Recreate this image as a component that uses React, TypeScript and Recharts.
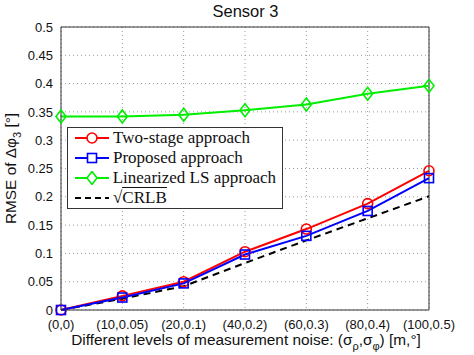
import React from "react";
import {
  CartesianGrid,
  Line,
  LineChart,
  ReferenceLine,
  XAxis,
  YAxis,
} from "recharts";

const noiseLevels = ["(0,0)", "(10,0.05)", "(20,0.1)", "(40,0.2)", "(60,0.3)", "(80,0.4)", "(100,0.5)"];
const twoStage = [0, 0.025, 0.05, 0.103, 0.143, 0.188, 0.246];
const proposed = [0, 0.022, 0.047, 0.098, 0.131, 0.175, 0.233];
const linearizedLS = [0.342, 0.342, 0.345, 0.353, 0.363, 0.382, 0.396];
const sqrtCrlb = [0, 0.02, 0.042, 0.083, 0.123, 0.162, 0.201];
const yTicks = [0, 0.05, 0.1, 0.15, 0.2, 0.25, 0.3, 0.35, 0.4, 0.45, 0.5];

const data = noiseLevels.map((label, i) => ({
  idx: i,
  label,
  twoStage: twoStage[i],
  proposed: proposed[i],
  linearizedLS: linearizedLS[i],
  sqrtCrlb: sqrtCrlb[i],
}));

const SANS = "'Liberation Sans', Arial, sans-serif";
const SERIF = "'Liberation Serif', 'DejaVu Serif', serif";

// open markers, MATLAB style
const circleDot = (color: string) => (p: any) => (
  <circle key={p.index} cx={p.cx} cy={p.cy} r={5} fill="none" stroke={color} strokeWidth={1.6} />
);
const squareDot = (color: string) => (p: any) => (
  <rect key={p.index} x={p.cx - 4.5} y={p.cy - 4.5} width={9} height={9} fill="none" stroke={color} strokeWidth={1.6} />
);
const diamondDot = (color: string) => (p: any) => (
  <path
    key={p.index}
    d={`M${p.cx},${p.cy - 6.5} L${p.cx + 5},${p.cy} L${p.cx},${p.cy + 6.5} L${p.cx - 5},${p.cy} Z`}
    fill="none"
    stroke={color}
    strokeWidth={1.6}
  />
);

function LegendSample({ color, dash, marker }: { color: string; dash?: boolean; marker?: string }) {
  return (
    <svg width={36} height={14} style={{ verticalAlign: "middle", marginRight: 3 }}>
      <line x1={1} y1={7} x2={35} y2={7} stroke={color} strokeWidth={2} strokeDasharray={dash ? "6 4" : undefined} />
      {marker === "circle" && <circle cx={18} cy={7} r={5} fill="white" stroke={color} strokeWidth={1.6} />}
      {marker === "square" && <rect x={13.5} y={2.5} width={9} height={9} fill="white" stroke={color} strokeWidth={1.6} />}
      {marker === "diamond" && <path d="M18,0.5 L23,7 L18,13.5 L13,7 Z" fill="white" stroke={color} strokeWidth={1.6} />}
    </svg>
  );
}

function LegendBox() {
  const row: React.CSSProperties = { height: 20, display: "flex", alignItems: "center", whiteSpace: "nowrap" };
  return (
    <div
      style={{
        position: "absolute",
        left: 67,
        top: 127,
        border: "1px solid #333",
        background: "white",
        padding: "0px 6px",
        fontFamily: SERIF,
        fontSize: 17,
        color: "#111",
        width: 202,
        height: 80,
        boxSizing: "content-box",
      }}
    >
      <div style={row}><LegendSample color="#ff0000" marker="circle" />Two-stage approach</div>
      <div style={row}><LegendSample color="#0000ff" marker="square" />Proposed approach</div>
      <div style={row}><LegendSample color="#00ee00" marker="diamond" />Linearized LS approach</div>
      <div style={row}>
        <LegendSample color="#000" dash />
        <span>√<span style={{ borderTop: "1px solid #111" }}>CRLB</span></span>
      </div>
    </div>
  );
}

export default function App() {
  return (
    <div style={{ position: "absolute", left: 0, top: 0, width: 474, height: 355, background: "white" }}>
      <LineChart width={474} height={355} data={data} margin={{ top: 27, right: 45, left: 0, bottom: 0 }}>
        <CartesianGrid stroke="#999" strokeDasharray="1 3" />
        <XAxis
          dataKey="idx"
          type="number"
          domain={[0, 6]}
          ticks={[0, 1, 2, 3, 4, 5, 6]}
          tickFormatter={(v) => noiseLevels[v]}
          height={45}
          stroke="#333"
          tickLine={false}
          tick={{ fill: "#111", fontFamily: SANS, fontSize: 13 }}
          tickMargin={4}
          interval={0}
          label={{
            content: (p: any) => {
              const vb = p.viewBox;
              return (
                <text x={vb.x + vb.width / 2 + 1} y={vb.y + 35} textAnchor="middle" fontFamily={SANS} fontSize={15.4} fill="#111">
                  Different levels of measurement noise: (σ
                  <tspan dy={5} fontSize={11}>ρ</tspan>
                  <tspan dy={-5}>,σ</tspan>
                  <tspan dy={5} fontSize={11}>φ</tspan>
                  <tspan dy={-5}>) [m,°]</tspan>
                </text>
              );
            },
          }}
        />
        <YAxis
          type="number"
          domain={[0, 0.5]}
          ticks={yTicks}
          interval={0}
          tickFormatter={(v) => String(v)}
          width={61}
          stroke="#333"
          tickLine={false}
          tick={{ fill: "#111", fontFamily: SANS, fontSize: 13 }}
          tickMargin={2}
          label={{
            content: (p: any) => {
              const vb = p.viewBox;
              const cx = 16;
              const cy = vb.y + vb.height / 2;
              return (
                <text x={cx} y={cy} textAnchor="middle" transform={`rotate(-90 ${cx} ${cy})`} fontFamily={SANS} fontSize={15.4} fill="#111">
                  RMSE of Δφ
                  <tspan dy={5} fontSize={11}>3</tspan>
                  <tspan dy={-5}> [°]</tspan>
                </text>
              );
            },
          }}
        />
        <ReferenceLine y={0.5} stroke="#333" />
        <ReferenceLine x={6} stroke="#333" />
        <Line dataKey="linearizedLS" stroke="#00ee00" strokeWidth={2} dot={diamondDot("#00ee00")} isAnimationActive={false} />
        <Line dataKey="sqrtCrlb" stroke="#000" strokeWidth={2} strokeDasharray="7 5" dot={false} isAnimationActive={false} />
        <Line dataKey="twoStage" stroke="#ff0000" strokeWidth={2} dot={circleDot("#ff0000")} isAnimationActive={false} />
        <Line dataKey="proposed" stroke="#0000ff" strokeWidth={2} dot={squareDot("#0000ff")} isAnimationActive={false} />
        <text x={245.5} y={17} textAnchor="middle" fontFamily={SANS} fontSize={16.5} fill="#111">
          Sensor 3
        </text>
      </LineChart>
      <LegendBox />
    </div>
  );
}
